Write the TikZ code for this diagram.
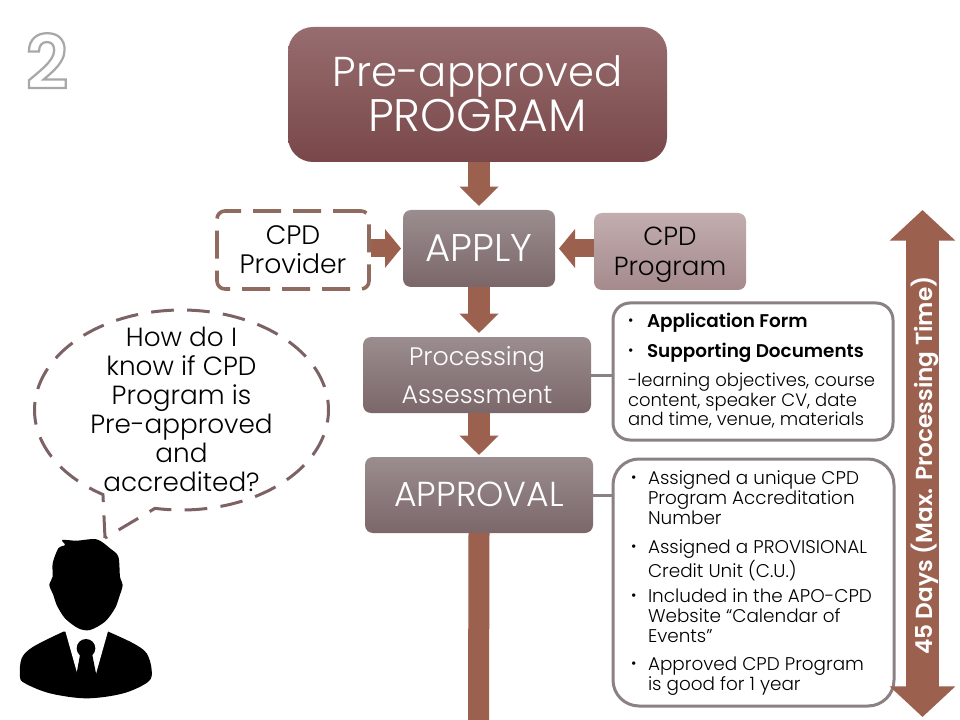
\documentclass[tikz,border=0pt]{standalone}
\usepackage{fontspec}
\setmainfont{Poppins}[UprightFont=* Light,BoldFont=* SemiBold]
\usetikzlibrary{arrows.meta,calc,shapes.geometric}
\definecolor{arrowbrown}{HTML}{9C604E}
\definecolor{greyline}{HTML}{8C8182}
\definecolor{dashbrown}{HTML}{8F6A5F}
\definecolor{bubbleline}{HTML}{7D6265}
\tikzset{
  every node/.style={inner sep=0pt,outer sep=0pt,align=center},
  boxbase/.style 2 args={rounded corners=8*0.75pt,minimum width=#1*0.75pt,minimum height=#2*0.75pt},
  topbox/.style={rounded corners=25*0.75pt,top color=top1,bottom color=top2,minimum width=379*0.75pt,minimum height=135*0.75pt},
  greybox/.style={top color=grey1,bottom color=grey2},
  pinkbox/.style={top color=pink1,bottom color=pink2},
  dashbox/.style={draw=dashbrown,line width=2.7pt,dash pattern=on 21pt off 9pt,fill=white},
  infobox/.style={draw=greyline,line width=2.25pt,fill=white},
  blockarrow/.style={draw=arrowbrown,line width=16.5pt,-{Triangle[length=14.5pt,width=28.5pt,fill=arrowbrown]}},
  sidearrow/.style={draw=arrowbrown,line width=13.5pt,-{Triangle[length=12pt,width=28.5pt,fill=arrowbrown]}},
  stem/.style={draw=arrowbrown,line width=15.75pt},
  linker/.style={draw=greyline,line width=2.25pt},
  spanarrow/.style={draw=arrowbrown,line width=25pt,{Triangle[length=23pt,width=48pt,fill=arrowbrown]}-{Triangle[length=23pt,width=48pt,fill=arrowbrown]}},
  infotext/.style={anchor=north west,align=left,font=\fontsize{13.8pt}{15pt}\selectfont},
  boxtext/.style={anchor=north west,align=left,font=\fontsize{13.5pt}{14.7pt}\selectfont},
  boldtext/.style={anchor=north west,align=left,font=\bfseries\fontsize{13.8pt}{15pt}\selectfont},
  bullet/.style={anchor=north west,font=\fontsize{11pt}{15pt}\selectfont},
}
\definecolor{top1}{HTML}{976D6F}
\definecolor{top2}{HTML}{794749}
\definecolor{grey1}{HTML}{9B8D8F}
\definecolor{grey2}{HTML}{7B6769}
\definecolor{pink1}{HTML}{C2ADAF}
\definecolor{pink2}{HTML}{A58A8C}
\begin{document}
\begin{tikzpicture}[x=0.75pt,y=-0.75pt]
\useasboundingbox (0,0) rectangle (960,720);
\fill[white] (0,0) rectangle (960,720);
% number
\node (num) at (47,61) {\fontsize{56pt}{56pt}\fontspec{Poppins SemiBold}[FakeBold=3]\color{white}\special{pdf:code 0.66 0.66 0.66 RG}2};
% boxes
\node[topbox,text=white,font=\fontsize{31.3pt}{32.5pt}\selectfont] (top) at (477.5,94.5) {\raisebox{-10.5pt}[0pt][0pt]{\begin{tabular}{@{}c@{}}Pre-approved\\{\fontsize{34.2pt}{32.5pt}\selectfont PROGRAM}\end{tabular}}};
\node[boxbase={152}{77},greybox,text=white,font=\fontsize{29pt}{29pt}\selectfont] (apply) at (479,248.5) {\raisebox{1.5pt}{APPLY}};
\node[boxbase={152}{78},dashbox,font=\fontsize{20pt}{22pt}\selectfont] (provider) at (293,250) {CPD\\Provider};
\node[boxbase={152}{77},pinkbox,font=\fontsize{19.6pt}{22pt}\selectfont] (program) at (670,251.5) {\raisebox{-7.5pt}[0pt][0pt]{\begin{tabular}{@{}c@{}}CPD\\Program\end{tabular}}};
\node[boxbase={228}{76},greybox,text=white,font=\fontsize{19pt}{29pt}\selectfont] (proc) at (477,375) {Processing\\Assessment};
\node[boxbase={228}{76},greybox,text=white,font=\fontsize{26pt}{26pt}\selectfont] (approval) at (479,495) {\raisebox{1.5pt}{APPROVAL}};
\node[infobox,rounded corners=17*0.75pt,minimum width=280*0.75pt,minimum height=137*0.75pt] (info1) at (753,371.5) {};
\node[infobox,rounded corners=26*0.75pt,minimum width=281*0.75pt,minimum height=247*0.75pt] (info2) at (753.5,582.5) {};
% connectors
\coordinate (stemend) at (478.5,720);
\draw[stem] (approval.south) -- (stemend);
\draw[blockarrow,shorten >=3pt] (apply.north |- top.south) -- (apply.north);
\draw[blockarrow,shorten >=3pt] (apply.south) -- (apply.south |- proc.north);
\draw[blockarrow,shorten >=1.5pt] (apply.south |- proc.south) -- (apply.south |- approval.north);
\draw[sidearrow,shorten <=1.5pt,shorten >=1.5pt] (provider.east |- apply.west) -- (apply.west);
\draw[sidearrow,shorten <=0pt,shorten >=3pt] (program.west |- apply.east) -- (apply.east);
\draw[linker] (proc.east) -- (info1.west |- proc.east);
\draw[linker] (approval.east) -- (info2.west |- approval.east);
\coordinate (spantop) at (922.5,210);
\coordinate (spanbot) at (922.5,717);
\draw[spanarrow] (spantop) -- (spanbot);
\node[text=white,rotate=90,font=\bfseries\fontsize{17.4pt}{17.4pt}\selectfont] (span) at (925,465.5) {45 Days (Max. Processing Time)};
% info 1
\node[bullet] (b1) at (628,319) {•};
\node[boldtext] (t1) at (647,313) {Application Form};
\node[bullet] (b2) at (628,349) {•};
\node[boldtext] (t2) at (647,343) {Supporting Documents};
\node[boxtext] (t3) at (628,373) {-learning objectives, course\\content, speaker CV, date\\and time, venue, materials};
% info 2
\node[bullet] (c1) at (631,476) {•};
\node[infotext] (d1) at (648,471) {Assigned a unique CPD\\Program Accreditation\\Number};
\node[bullet] (c2) at (631,545) {•};
\node[infotext] (d2) at (648,540) {Assigned a PROVISIONAL\\Credit Unit (C.U.)};
\node[bullet] (c3) at (631,594) {•};
\node[infotext] (d3) at (648,589) {Included in the APO-CPD\\Website “Calendar of\\Events”};
\node[bullet] (c4) at (631,662) {•};
\node[infotext] (d4) at (648,657) {Approved CPD Program\\is good for 1 year};
% bubble
\draw[bubbleline,line width=2.25pt,dash pattern=on 17pt off 10pt]
  (105,538) -- plot[domain=122.3:460.4,samples=170] ({181.5+147*cos(\x)},{410+100*sin(\x)}) -- cycle;
\node[font=\fontsize{19.7pt}{21.75pt}\selectfont] (bubble) at (181.5,409) {How do I\\know if CPD\\Program is\\Pre-approved\\and\\accredited?};
% person
\begin{scope}[shift={(0,300)},x=0.25pt,y=-0.25pt]
\fill[black] plot[smooth,tension=0.55] coordinates {(190,995)(100,1040)(65,1075)(60,1130)(75,1150)(150,1180)(260,1195)(370,1180)(445,1145)(455,1110)(440,1060)(400,1030)(325,995)} -- cycle;
\fill[white] (195,990) -- (325,990) -- (287,1125) -- (258,1090) -- (233,1125) -- cycle;
\fill[black] plot[smooth cycle,tension=0.5] coordinates {(187,720)(230,722)(290,718)(330,745)(355,770)(360,830)(368,855)(358,890)(345,925)(315,965)(270,990)(235,985)(195,955)(170,915)(160,885)(148,855)(158,830)(158,790)(175,745)(195,735)};
\fill[black] (258,1045) circle[radius=28];
\fill[black] (240,1065) -- (277,1065) -- (290,1130) -- (258,1180) -- (228,1130) -- cycle;
\end{scope}
\end{tikzpicture}
\end{document}
